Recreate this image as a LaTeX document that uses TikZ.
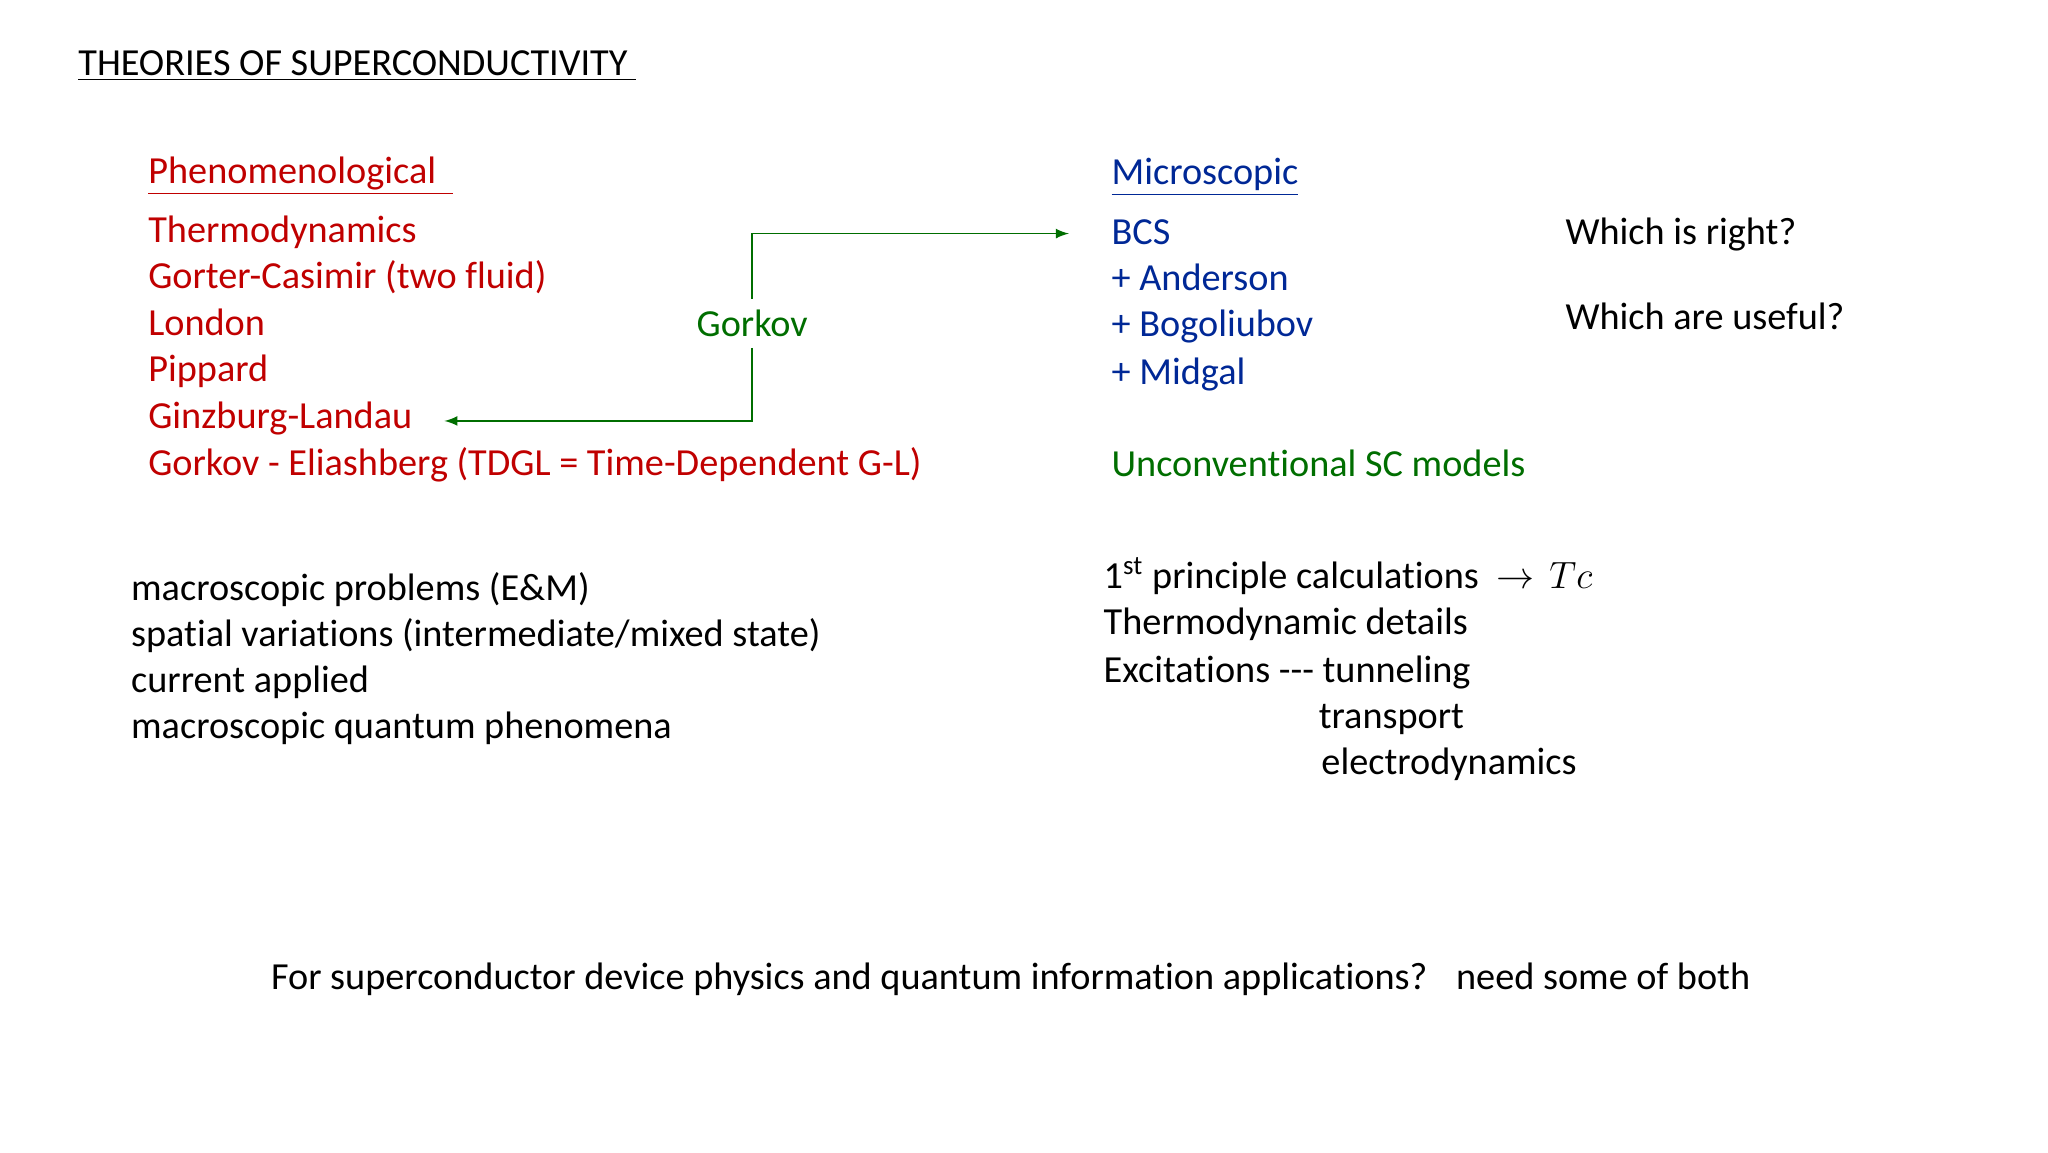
\documentclass[tikz,border=0pt]{standalone}
\usepackage{fontspec}
\setmainfont{Carlito}[RawFeature=-liga]
\usetikzlibrary{positioning}
\definecolor{phenoRed}{RGB}{192,0,0}
\definecolor{microBlue}{RGB}{0,40,150}
\definecolor{gorkGreen}{RGB}{0,110,0}
\tikzset{
  txt/.style={anchor=base west,inner sep=0pt,font=\fontsize{14.5}{17}\selectfont},
  red/.style={txt,text=phenoRed},
  blue/.style={txt,text=microBlue},
  green/.style={txt,text=gorkGreen},
  link/.style={draw=gorkGreen,line width=0.7pt,-latex}
}
\begin{document}
\begin{tikzpicture}[x=0.5pt,y=-0.5pt]
\path[use as bounding box] (0,0) rectangle (1552,873);

% title
\node[txt] (title) at (59,57) {\underline{THEORIES OF SUPERCONDUCTIVITY\ }};

% phenomenological side
\node[red] (pheno) at (112,139) {\underline{Phenomenological\ \ }};
\node[red] (thermo) at (112,184) {Thermodynamics};
\node[red] (gorter) at (112,219) {Gorter-Casimir (two fluid)};
\node[red] (london) at (112,254) {London};
\node[red] (pippard) at (112,289) {Pippard};
\node[red] (gl) at (112,325) {Ginzburg-Landau};
\node[red] (tdgl) at (112,360) {Gorkov - Eliashberg (TDGL = Time-Dependent G-L)};

% microscopic side
\node[blue] (micro) at (842,140) {\underline{Microscopic}};
\node[blue] (bcs) at (842,185) {BCS};
\node[blue] (anderson) at (842,220) {+ Anderson};
\node[blue] (bogo) at (842,255) {+ Bogoliubov};
\node[blue] (midgal) at (842,291) {+ Midgal};
\node[green] (unconv) at (842,361) {Unconventional SC models};

\node[txt] (right) at (1186,185) {Which is right?};
\node[txt] (useful) at (1186,250) {Which are useful?};

% Gorkov links
\node[green,anchor=center,inner sep=4pt] (gorkov) at (570,245) {Gorkov};
\draw[link,shorten >=16pt] (gorkov.north) |- ([yshift=4pt]bcs.base west);
\draw[link,shorten >=12pt] (gorkov.south) |- ([yshift=3pt]gl.base east);

% uses
\node[txt] (macro) at (99,455) {macroscopic problems (E\&M)};
\node[txt] (spatial) at (99,490) {spatial variations (intermediate/mixed state)};
\node[txt] (current) at (99,525) {current applied};
\node[txt] (quantum) at (99,560) {macroscopic quantum phenomena};

\node[txt] (first) at (836,446) {1\textsuperscript{st} principle calculations \ $\rightarrow$ \,$Tc$};
\node[txt] (thdet) at (836,481) {Thermodynamic details};
\node[txt] (excit) at (836,517) {Excitations -{}-{}- tunneling};
\node[txt] (transport) at (999,552) {transport};
\node[txt] (electro) at (1001,587) {electrodynamics};

\node[txt] (both) at (205,750) {For superconductor device physics and quantum information applications? \ \ need some of both};
\end{tikzpicture}
\end{document}
